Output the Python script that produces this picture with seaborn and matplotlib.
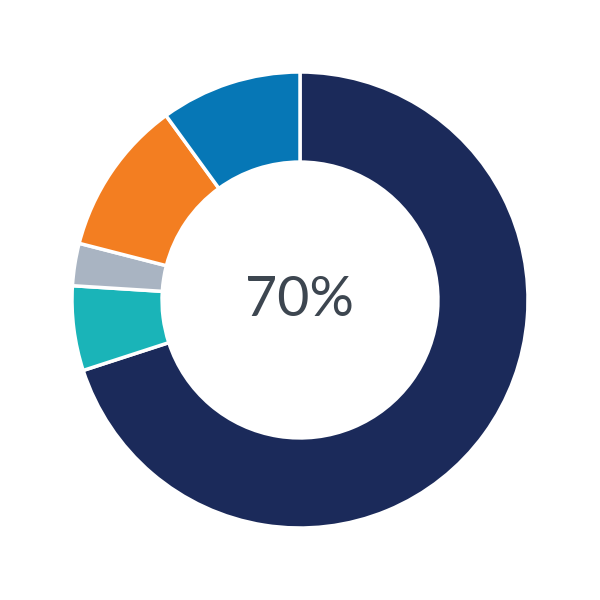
import matplotlib
matplotlib.use("Agg")
import matplotlib.pyplot as plt
import seaborn as sns

# donut segments, clockwise from 12 o'clock
labels = ["Main", "Teal", "Gray", "Orange", "Blue"]
shares = [70, 6, 3, 11, 10]
colors = ["#1b2a5a", "#1ab4b8", "#a9b4c2", "#f37e21", "#0677b6"]
center_label = "70%"

sns.set_theme(style="white")
plt.rcParams['font.family'] = ['Lato', 'DejaVu Sans']

fig = plt.figure(figsize=(6, 6), dpi=100)
ax = fig.add_axes([0, 0, 1, 1])
palette = sns.color_palette(colors)

ax.pie(shares, colors=palette, startangle=90, counterclock=False,
       radius=1.0,
       wedgeprops=dict(width=0.395, edgecolor="white", linewidth=2.5))

ax.text(0, 0, center_label, ha="center", va="center",
        fontsize=40, color="#3d4650", fontweight="normal")

lim = 300 / 228
ax.set_xlim(-lim, lim)
ax.set_ylim(-lim, lim)
ax.set_aspect("equal")
ax.axis("off")

fig.savefig("out.png", dpi=100, facecolor="white")
